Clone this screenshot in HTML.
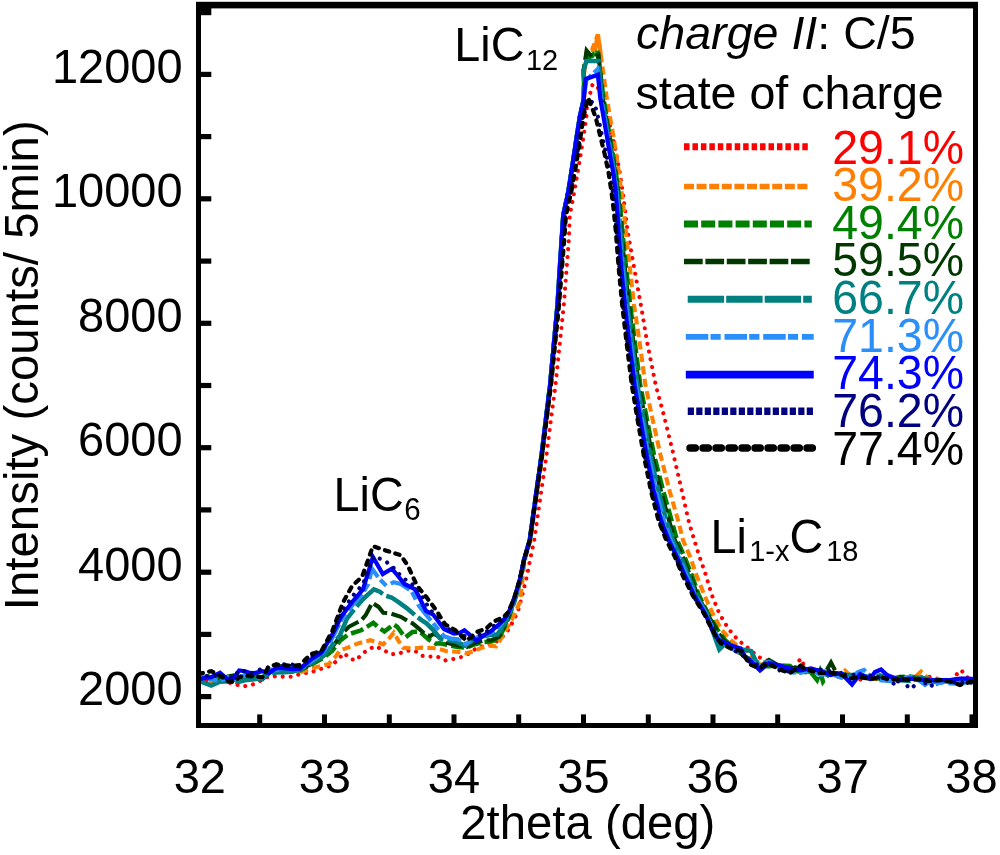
<!DOCTYPE html>
<html><head><meta charset="utf-8"><title>XRD charge II</title>
<style>html,body{margin:0;padding:0;background:#fff}body{width:1000px;height:855px;overflow:hidden}svg{display:block}text{font-family:"Liberation Sans",sans-serif;}</style></head><body>
<svg width="1000" height="855" viewBox="0 0 1000 855">
<rect width="1000" height="855" fill="#fff"/>
<g fill="none" stroke-linejoin="miter" stroke-miterlimit="4">
<path d="M198.5,680.4 L201.6,680.7 L211.2,680.5 L220.0,681.3 L228.0,682.7 L233.6,683.4 L239.2,685.6 L244.8,686.2 L252.0,684.8 L262.4,679.8 L268.4,676.5 L276.4,676.3 L284.4,676.7 L292.4,676.7 L300.0,674.0 L310.8,672.2 L321.6,668.6 L332.4,665.0 L341.4,656.0 L344.1,653.1 L349.9,658.6 L355.8,660.5 L362.2,653.9 L368.7,649.0 L375.7,646.4 L383.9,650.2 L390.9,654.3 L398.5,653.7 L406.1,650.8 L414.9,650.8 L421.9,655.8 L429.5,656.6 L437.1,656.6 L445.4,660.4 L453.9,658.9 L462.3,656.8 L469.3,653.3 L476.3,648.4 L484.7,645.6 L493.2,643.5 L500.2,639.3 L506.5,632.3 L510.7,626.0 L514.2,618.9 L517.7,611.9 L520.5,602.1 L522.6,593.7 L524.7,585.3 L526.8,576.8 L530.0,560.0 L534.3,540.0 L540.4,497.0 L546.5,455.0 L550.9,420.0 L555.5,385.0 L559.6,345.0 L563.8,305.0 L566.5,270.0 L568.8,240.0 L569.8,215.0 L574.2,192.3 L577.7,172.0 L580.6,155.0 L583.7,135.0 L586.4,117.4 L587.0,106.0 L592.6,84.0 L598.0,88.0 L608.0,118.0 L612.5,136.0 L616.5,155.0 L620.0,173.6 L622.7,192.0 L625.2,211.0 L627.4,230.0 L634.0,267.0 L640.9,305.0 L647.1,342.0 L655.7,385.0 L664.3,417.0 L673.6,455.0 L682.1,492.0 L688.4,520.0 L694.2,540.0 L699.6,557.0 L706.2,576.0 L711.8,595.0 L719.3,613.6 L728.6,629.0 L738.0,640.0 L749.2,649.0 L758.6,657.0 L769.0,661.4 L779.5,669.4 L790.0,668.2 L795.0,668.0 L800.5,658.5 L806.0,669.0 L811.0,669.1 L820.0,671.0 L830.5,673.8 L841.0,677.7 L850.0,674.8 L860.0,679.6 L870.0,677.6 L880.0,680.1 L890.0,680.0 L900.0,676.5 L910.0,679.8 L920.0,677.0 L930.0,676.7 L940.0,679.5 L950.0,682.1 L955.0,676.0 L961.0,670.0 L967.0,677.0 L975.0,683.0" stroke="#ff0000" stroke-width="4.1" stroke-linecap="round" stroke-dasharray="0.01 7.9"/>
<path d="M198.5,678.0 L201.6,675.8 L211.2,681.4 L220.0,681.8 L228.0,679.2 L233.6,680.2 L239.2,677.1 L244.8,676.9 L252.0,677.1 L262.4,678.9 L268.4,670.8 L276.4,673.1 L284.4,666.8 L292.4,667.1 L300.0,672.2 L318.0,666.8 L328.8,664.1 L336.0,656.0 L340.0,650.2 L345.8,648.4 L358.7,643.2 L370.4,640.2 L383.3,644.3 L389.1,638.5 L393.8,632.6 L398.5,640.8 L403.2,647.8 L412.5,648.4 L421.9,647.6 L437.1,648.4 L446.8,651.2 L458.1,651.9 L466.5,653.3 L473.5,651.2 L481.9,647.7 L488.9,645.6 L496.0,646.3 L500.2,640.0 L505.8,630.2 L510.0,623.2 L515.6,611.9 L519.8,602.1 L521.9,585.3 L524.8,560.0 L530.6,540.0 L536.5,497.0 L542.4,455.0 L546.6,420.0 L550.9,385.0 L554.6,345.0 L558.3,305.0 L560.5,270.0 L562.4,240.0 L564.1,215.0 L569.0,192.3 L572.2,172.0 L574.8,155.0 L577.8,135.0 L580.5,117.4 L584.4,100.0 L584.8,85.0 L584.5,70.0 L586.4,52.0 L592.0,50.0 L597.9,34.5 L606.8,98.0 L610.0,117.0 L613.4,136.0 L616.3,155.0 L619.0,173.6 L621.5,192.0 L623.8,211.0 L625.6,230.0 L629.8,267.0 L634.0,305.0 L639.6,342.0 L645.4,385.0 L652.1,417.0 L660.5,455.0 L669.9,492.0 L678.0,520.0 L683.0,540.0 L690.2,557.0 L696.8,576.0 L704.3,595.0 L712.7,613.6 L721.1,629.0 L730.5,640.0 L742.0,649.0 L752.0,657.0 L758.6,664.4 L769.0,664.9 L779.5,666.9 L790.0,669.8 L800.5,669.5 L811.0,671.8 L820.0,671.4 L830.5,671.3 L841.0,674.5 L845.0,670.5 L850.0,675.3 L860.0,674.6 L870.0,679.2 L880.0,678.8 L890.0,679.1 L900.0,680.8 L910.0,678.3 L915.0,677.0 L921.0,671.5 L927.0,677.5 L930.0,679.2 L940.0,679.5 L950.0,681.5 L960.0,677.7 L967.0,680.6 L975.0,681.2" stroke="#ff8000" stroke-width="4.1" stroke-linecap="butt" stroke-dasharray="8.3 4.3"/>
<path d="M594.6,52 L597.9,34.5 L600.8,54" stroke="#ff8000" stroke-width="4.1" stroke-linecap="butt"/>
<path d="M198.5,674.7 L201.6,678.0 L211.2,675.8 L220.0,680.0 L228.0,679.6 L233.6,677.9 L239.2,679.2 L244.8,678.6 L252.0,675.0 L262.4,677.4 L268.4,672.9 L276.4,669.8 L284.4,671.5 L292.4,670.0 L300.0,670.4 L310.8,665.0 L323.4,657.8 L332.4,650.6 L340.0,640.8 L348.2,634.4 L361.1,630.3 L366.9,626.8 L373.3,622.7 L378.6,627.4 L384.4,631.5 L393.8,624.4 L397.3,626.8 L403.2,635.0 L405.5,637.3 L412.5,632.0 L419.5,631.5 L428.9,639.6 L435.9,643.7 L440.0,643.2 L446.8,644.9 L458.1,647.0 L466.5,647.7 L474.9,644.2 L483.3,642.1 L491.8,641.4 L498.8,638.6 L504.4,627.4 L509.3,616.1 L514.2,602.1 L519.8,582.5 L524.0,560.0 L529.8,540.0 L535.7,497.0 L541.6,455.0 L545.8,420.0 L550.1,385.0 L553.8,345.0 L557.5,305.0 L559.7,270.0 L561.6,240.0 L563.3,215.0 L568.2,192.3 L571.4,172.0 L574.0,155.0 L577.0,135.0 L579.7,117.4 L583.6,100.0 L584.0,85.0 L583.7,70.0 L586.4,58.0 L592.0,56.0 L597.3,50.0 L603.5,98.0 L606.5,117.0 L609.6,136.0 L613.0,155.0 L616.0,173.6 L618.5,192.0 L620.5,211.0 L622.2,230.0 L626.0,267.0 L630.2,305.0 L634.8,342.0 L640.2,385.0 L646.5,417.0 L654.0,455.0 L663.5,492.0 L671.5,520.0 L677.0,540.0 L684.6,557.0 L692.1,576.0 L698.7,595.0 L708.0,613.6 L717.0,629.0 L724.9,640.0 L735.0,649.0 L746.5,657.0 L758.6,665.8 L769.0,666.3 L779.5,665.5 L790.0,666.0 L795.0,671.0 L800.5,671.6 L811.0,672.5 L817.0,680.0 L820.0,671.6 L823.0,681.5 L829.0,673.5 L841.0,673.3 L850.0,676.7 L860.0,674.8 L870.0,678.0 L880.0,678.5 L890.0,679.1 L900.0,677.0 L910.0,676.5 L920.0,678.3 L930.0,680.8 L940.0,680.2 L950.0,682.0 L960.0,680.3 L967.0,680.2 L975.0,683.4" stroke="#008000" stroke-width="4.5" stroke-linecap="butt" stroke-dasharray="13 4.2"/>
<path d="M198.5,679.6 L201.6,676.5 L211.2,678.9 L220.0,679.6 L228.0,676.6 L233.6,675.5 L239.2,678.6 L244.8,675.3 L252.0,676.7 L262.4,679.2 L268.4,674.0 L276.4,666.7 L284.4,665.9 L292.4,666.2 L300.0,669.5 L310.8,664.1 L323.4,656.0 L332.4,647.0 L341.4,634.4 L348.8,626.8 L361.1,620.4 L365.7,615.1 L372.2,602.8 L378.6,606.9 L383.3,612.7 L390.3,613.3 L400.8,616.8 L407.8,620.9 L412.5,623.3 L419.5,629.1 L425.4,634.4 L430.1,636.1 L433.6,633.8 L440.0,637.3 L446.8,642.8 L458.1,645.6 L466.5,647.0 L474.9,642.8 L483.3,640.7 L491.8,640.0 L498.8,637.2 L504.4,626.0 L509.3,614.7 L514.2,600.7 L519.8,581.1 L524.0,560.0 L529.8,540.0 L535.7,497.0 L541.6,455.0 L545.8,420.0 L550.1,385.0 L553.8,345.0 L557.5,305.0 L559.7,270.0 L561.6,240.0 L563.3,215.0 L568.2,192.3 L571.4,172.0 L574.0,155.0 L577.0,135.0 L579.7,117.4 L583.6,100.0 L584.0,85.0 L583.7,70.0 L586.6,50.5 L592.0,57.0 L598.6,55.0 L602.7,98.0 L605.8,117.0 L608.9,136.0 L612.2,155.0 L615.4,173.6 L617.8,192.0 L619.7,211.0 L621.2,230.0 L624.8,267.0 L628.9,305.0 L633.4,342.0 L638.8,385.0 L644.9,417.0 L652.1,455.0 L661.1,492.0 L668.9,520.0 L674.9,540.0 L682.7,557.0 L690.3,576.0 L697.5,595.0 L707.2,613.6 L715.8,629.0 L723.3,640.0 L734.2,649.0 L746.1,657.0 L758.6,668.0 L769.0,660.0 L779.5,666.1 L790.0,667.6 L800.5,668.3 L811.0,671.1 L820.0,670.0 L825.0,673.0 L831.0,662.5 L837.0,674.0 L841.0,676.3 L850.0,677.8 L860.0,676.4 L870.0,679.0 L880.0,678.1 L890.0,680.1 L900.0,677.0 L910.0,678.1 L920.0,679.8 L930.0,682.4 L940.0,680.8 L950.0,680.3 L960.0,679.2 L967.0,679.5 L975.0,679.3" stroke="#003800" stroke-width="4.1" stroke-linecap="butt" stroke-dasharray="17 4.4"/>
<path d="M198.5,680.7 L201.6,681.9 L211.2,685.6 L220.0,681.6 L228.0,681.4 L233.6,681.8 L239.2,681.8 L244.8,680.3 L252.0,679.5 L262.4,678.4 L268.4,674.2 L276.4,672.4 L284.4,672.2 L292.4,671.7 L300.0,669.5 L310.8,663.2 L323.4,656.0 L332.4,645.2 L340.0,635.0 L347.0,618.6 L355.2,608.1 L363.4,598.7 L373.9,589.4 L379.8,591.7 L384.4,595.2 L391.5,597.5 L398.5,602.2 L406.7,608.1 L414.9,615.1 L421.9,620.4 L426.5,623.3 L433.6,630.3 L440.0,638.5 L446.8,640.0 L455.3,641.4 L465.1,645.6 L473.5,640.0 L481.9,636.5 L490.4,635.1 L497.4,634.4 L503.0,626.0 L506.5,620.4 L514.2,600.7 L519.8,581.1 L524.0,560.0 L529.8,540.0 L535.7,497.0 L541.6,455.0 L545.8,420.0 L550.1,385.0 L553.8,345.0 L557.5,305.0 L559.7,270.0 L561.6,240.0 L563.3,215.0 L568.2,192.3 L571.4,172.0 L574.0,155.0 L577.0,135.0 L579.7,117.4 L583.6,100.0 L584.0,85.0 L583.7,70.0 L586.4,61.0 L598.6,61.0 L601.9,98.0 L605.0,117.0 L608.2,136.0 L611.5,155.0 L614.7,173.6 L617.1,192.0 L618.9,211.0 L620.3,230.0 L623.6,267.0 L627.5,305.0 L632.0,342.0 L637.4,385.0 L643.2,417.0 L650.2,455.0 L658.8,492.0 L666.2,520.0 L672.8,540.0 L680.8,557.0 L688.5,576.0 L696.4,595.0 L706.5,613.6 L713.0,632.0 L719.3,649.5 L725.0,644.0 L733.5,649.0 L745.0,650.0 L751.0,651.0 L756.7,662.5 L769.0,662.7 L779.5,667.1 L790.0,668.9 L800.5,671.2 L811.0,671.8 L820.0,671.4 L830.5,672.9 L841.0,675.1 L850.0,675.1 L860.0,675.0 L870.0,677.7 L880.0,675.3 L890.0,678.7 L900.0,680.3 L910.0,680.9 L920.0,677.8 L930.0,679.2 L940.0,682.6 L950.0,679.6 L960.0,683.6 L967.0,679.0 L975.0,683.0" stroke="#008080" stroke-width="4.5" stroke-linecap="butt" stroke-dasharray="34.5 4"/>
<path d="M198.5,678.9 L201.6,675.8 L211.2,679.3 L220.0,681.0 L228.0,677.2 L233.6,679.9 L239.2,676.9 L244.8,675.5 L252.0,676.4 L262.4,678.3 L268.4,669.4 L276.4,670.1 L284.4,667.6 L292.4,665.9 L300.0,669.0 L310.8,661.4 L321.6,654.2 L332.4,638.0 L341.4,620.0 L352.2,605.6 L363.0,593.0 L368.4,584.0 L372.0,568.7 L379.2,578.6 L386.4,585.8 L393.6,582.2 L400.8,584.0 L411.6,591.2 L418.8,605.6 L426.0,614.6 L435.0,625.4 L444.0,636.2 L451.1,638.6 L458.1,639.3 L465.8,644.2 L473.5,638.6 L481.9,635.8 L490.4,633.0 L497.4,628.8 L504.4,620.4 L508.6,613.3 L514.2,599.3 L519.8,580.4 L524.0,560.0 L529.8,540.0 L535.7,497.0 L541.6,455.0 L545.8,420.0 L550.1,385.0 L553.8,345.0 L557.5,305.0 L559.7,270.0 L561.6,240.0 L563.3,215.0 L568.2,192.3 L571.4,172.0 L574.0,155.0 L577.0,135.0 L579.7,117.4 L583.6,100.0 L586.4,80.0 L597.3,69.5 L601.0,98.0 L604.2,117.0 L607.5,136.0 L610.8,155.0 L614.0,173.6 L616.4,192.0 L618.0,211.0 L619.3,230.0 L622.4,267.0 L626.1,305.0 L630.6,342.0 L636.0,385.0 L641.5,417.0 L648.4,455.0 L656.4,492.0 L663.6,520.0 L670.7,540.0 L678.9,557.0 L686.8,576.0 L695.2,595.0 L705.8,613.6 L713.2,629.0 L720.1,640.0 L732.8,649.0 L745.4,657.0 L758.6,666.1 L769.0,661.8 L779.5,667.5 L790.0,672.3 L800.5,673.0 L811.0,669.4 L820.0,674.9 L830.5,673.8 L841.0,677.7 L850.0,678.4 L858.0,672.0 L864.0,670.0 L870.0,675.8 L880.0,680.3 L890.0,681.1 L900.0,679.2 L910.0,676.6 L920.0,681.2 L925.0,685.0 L930.0,681.3 L933.0,686.0 L940.0,682.4 L950.0,683.4 L960.0,683.6 L967.0,682.3 L975.0,680.4" stroke="#2a8ffa" stroke-width="4.2" stroke-linecap="butt" stroke-dasharray="21 3.5 8.5 5"/>
<path d="M198.5,678.3 L201.6,678.6 L211.2,677.1 L220.0,672.8 L228.0,679.9 L233.6,678.3 L239.2,670.5 L244.8,671.2 L252.0,673.5 L262.4,671.2 L268.4,673.0 L276.4,668.2 L284.4,668.2 L292.4,669.2 L300.0,668.6 L310.8,659.6 L321.6,652.4 L332.4,634.4 L341.4,616.4 L352.2,602.0 L363.0,589.4 L372.9,557.0 L382.8,574.1 L391.8,568.7 L397.2,575.0 L404.4,584.0 L415.2,589.4 L426.0,611.0 L433.2,614.6 L444.0,629.0 L453.9,633.7 L459.5,633.0 L464.4,630.2 L469.3,634.4 L476.3,640.7 L483.3,635.8 L490.4,631.6 L497.4,626.0 L504.4,618.9 L508.6,612.6 L514.2,598.6 L519.8,579.6 L524.0,560.0 L529.8,540.0 L535.7,497.0 L541.6,455.0 L545.8,420.0 L550.1,385.0 L553.8,345.0 L557.5,305.0 L559.7,270.0 L561.6,240.0 L563.3,215.0 L568.2,192.3 L571.4,172.0 L574.0,155.0 L577.0,135.0 L579.7,117.4 L583.6,100.0 L585.7,79.0 L598.0,74.7 L600.2,98.0 L603.5,117.0 L606.8,136.0 L610.0,155.0 L613.4,173.6 L615.7,192.0 L617.2,211.0 L618.4,230.0 L621.2,267.0 L624.8,305.0 L629.2,342.0 L634.6,385.0 L639.9,417.0 L646.5,455.0 L654.0,492.0 L661.0,520.0 L668.6,540.0 L677.0,557.0 L685.0,576.0 L694.0,595.0 L705.0,613.6 L712.0,629.0 L718.5,640.0 L730.0,645.0 L740.5,648.5 L745.0,657.0 L749.5,660.0 L760.0,670.5 L769.0,663.0 L779.5,665.6 L790.0,668.6 L800.5,670.4 L811.0,668.4 L820.0,671.0 L830.5,675.0 L841.0,673.0 L852.0,684.5 L860.0,674.1 L870.0,678.7 L875.0,672.0 L881.0,669.5 L887.0,675.0 L890.0,676.2 L900.0,680.0 L910.0,678.6 L920.0,679.6 L930.0,680.4 L940.0,680.1 L950.0,680.0 L960.0,678.6 L967.0,678.7 L975.0,679.2" stroke="#0000ff" stroke-width="4.2" stroke-linecap="butt"/>
<path d="M198.5,674.6 L201.6,675.4 L211.2,676.7 L220.0,674.3 L228.0,678.0 L233.6,677.7 L239.2,670.3 L244.8,671.3 L252.0,673.0 L262.4,668.4 L268.4,667.4 L276.4,664.5 L284.4,664.2 L292.4,664.6 L300.0,667.7 L310.8,656.9 L321.6,651.5 L332.4,632.6 L341.4,612.8 L352.2,596.6 L363.0,584.0 L373.8,556.1 L384.6,560.6 L391.8,566.0 L402.6,577.7 L417.0,587.6 L429.6,609.2 L436.8,616.4 L445.8,627.2 L453.9,632.3 L462.3,634.4 L467.9,638.6 L477.0,635.8 L484.7,633.0 L491.8,627.4 L500.2,621.8 L507.2,614.7 L514.2,598.2 L519.8,579.6 L524.0,560.0 L529.9,540.0 L535.9,497.0 L542.0,455.0 L546.4,420.0 L550.8,385.0 L554.8,345.0 L558.7,305.0 L561.4,270.0 L563.7,240.0 L565.5,215.0 L570.6,192.3 L574.1,172.0 L577.0,155.0 L580.0,135.0 L582.7,117.4 L586.8,99.0 L594.7,103.6 L598.0,117.0 L602.2,136.0 L606.4,155.0 L610.1,173.6 L612.8,192.0 L614.8,211.0 L616.5,230.0 L619.4,267.0 L623.0,305.0 L627.3,342.0 L632.6,385.0 L637.9,417.0 L644.5,455.0 L652.0,492.0 L659.2,520.0 L666.9,540.0 L675.6,557.0 L683.6,576.0 L692.9,595.0 L704.3,613.6 L711.6,629.0 L718.1,640.0 L732.0,649.0 L745.0,657.0 L749.2,661.7 L758.6,664.9 L769.0,662.7 L779.5,670.3 L790.0,671.4 L800.5,668.3 L811.0,670.2 L820.0,669.4 L830.5,671.1 L841.0,674.9 L850.0,674.4 L860.0,675.5 L870.0,675.8 L880.0,677.2 L890.0,680.2 L896.0,686.0 L900.0,676.9 L905.0,684.0 L911.0,689.0 L917.0,683.0 L920.0,678.7 L930.0,687.0 L940.0,678.9 L950.0,682.2 L960.0,682.8 L967.0,682.2 L975.0,683.3" stroke="#000080" stroke-width="4.1" stroke-linecap="round" stroke-dasharray="0.01 8.4"/>
<path d="M198.5,673.5 L201.6,673.2 L211.2,671.2 L220.0,675.6 L228.0,681.2 L233.6,682.0 L239.2,677.2 L244.8,675.6 L252.0,676.4 L262.4,677.2 L268.4,667.2 L276.4,664.4 L284.4,665.2 L292.4,666.0 L300.0,665.0 L310.8,654.2 L321.6,650.6 L332.4,630.8 L343.2,602.0 L352.2,585.8 L362.1,576.8 L372.9,546.2 L386.4,550.7 L400.8,555.2 L408.0,566.0 L417.0,585.8 L426.0,596.6 L436.8,611.0 L439.8,616.1 L445.4,624.6 L455.3,630.2 L466.5,640.7 L477.7,631.6 L486.1,628.8 L493.2,621.8 L503.0,617.5 L508.6,611.9 L514.2,597.9 L519.8,579.6 L524.0,560.0 L529.9,540.0 L536.0,497.0 L542.1,455.0 L546.5,420.0 L551.0,385.0 L555.0,345.0 L559.0,305.0 L561.8,270.0 L564.2,240.0 L566.0,215.0 L571.2,192.3 L574.8,172.0 L577.8,155.0 L580.8,135.0 L583.4,117.4 L588.1,97.8 L595.6,117.0 L600.2,136.0 L604.9,155.0 L608.7,173.6 L611.5,192.0 L613.8,211.0 L615.7,230.0 L618.6,267.0 L622.2,305.0 L626.5,342.0 L631.8,385.0 L637.1,417.0 L643.7,455.0 L651.2,492.0 L658.4,520.0 L666.2,540.0 L675.0,557.0 L683.0,576.0 L692.5,595.0 L704.0,613.6 L715.5,636.0 L721.1,643.5 L732.4,649.2 L741.7,651.0 L749.2,664.1 L758.6,667.9 L769.0,663.8 L779.5,669.5 L790.0,673.0 L800.5,665.8 L811.0,671.0 L820.0,673.0 L830.5,672.5 L841.0,674.7 L850.0,678.5 L860.0,677.0 L870.0,679.0 L880.0,677.0 L890.0,679.5 L900.0,679.0 L910.0,680.0 L920.0,679.0 L930.0,681.0 L940.0,680.0 L950.0,681.5 L960.0,685.0 L967.0,683.0 L975.0,680.0" stroke="#000000" stroke-width="4.2" stroke-linecap="round" stroke-dasharray="4.4 6.4"/>
</g>
<g fill="#000">
<rect x="196" y="1.8" width="782" height="6.6"/>
<rect x="196" y="723" width="782" height="5"/>
<rect x="196" y="2" width="5" height="726"/>
<rect x="973" y="2" width="5" height="726"/>
<rect x="257.2" y="714.4" width="5" height="9"/>
<rect x="322.0" y="714.4" width="5" height="9"/>
<rect x="386.8" y="714.4" width="5" height="9"/>
<rect x="451.5" y="714.4" width="5" height="9"/>
<rect x="516.2" y="714.4" width="5" height="9"/>
<rect x="581.0" y="714.4" width="5" height="9"/>
<rect x="645.8" y="714.4" width="5" height="9"/>
<rect x="710.5" y="714.4" width="5" height="9"/>
<rect x="775.2" y="714.4" width="5" height="9"/>
<rect x="840.0" y="714.4" width="5" height="9"/>
<rect x="904.8" y="714.4" width="5" height="9"/>
<rect x="969.5" y="714.4" width="5" height="9"/>
<rect x="200" y="694.0" width="11.3" height="5.2"/>
<rect x="200" y="631.8" width="11.3" height="5.2"/>
<rect x="200" y="569.6" width="11.3" height="5.2"/>
<rect x="200" y="507.3" width="11.3" height="5.2"/>
<rect x="200" y="445.1" width="11.3" height="5.2"/>
<rect x="200" y="382.9" width="11.3" height="5.2"/>
<rect x="200" y="320.7" width="11.3" height="5.2"/>
<rect x="200" y="258.5" width="11.3" height="5.2"/>
<rect x="200" y="196.2" width="11.3" height="5.2"/>
<rect x="200" y="134.0" width="11.3" height="5.2"/>
<rect x="200" y="71.8" width="11.3" height="5.2"/>
<rect x="200" y="8" width="11.3" height="7.2"/>
</g>
<text transform="translate(182.6,705.1) scale(1,1.04)" font-size="47" text-anchor="end" fill="#000">2000</text>
<text transform="translate(182.6,580.7) scale(1,1.04)" font-size="47" text-anchor="end" fill="#000">4000</text>
<text transform="translate(182.6,456.2) scale(1,1.04)" font-size="47" text-anchor="end" fill="#000">6000</text>
<text transform="translate(182.6,331.8) scale(1,1.04)" font-size="47" text-anchor="end" fill="#000">8000</text>
<text transform="translate(182.6,207.3) scale(1,1.04)" font-size="47" text-anchor="end" fill="#000">10000</text>
<text transform="translate(182.6,82.9) scale(1,1.04)" font-size="47" text-anchor="end" fill="#000">12000</text>
<text transform="translate(199.8,792.6) scale(1,1.04)" font-size="47" text-anchor="middle" fill="#000">32</text>
<text transform="translate(324.8,792.6) scale(1,1.04)" font-size="47" text-anchor="middle" fill="#000">33</text>
<text transform="translate(454,792.6) scale(1,1.04)" font-size="47" text-anchor="middle" fill="#000">34</text>
<text transform="translate(583.5,792.6) scale(1,1.04)" font-size="47" text-anchor="middle" fill="#000">35</text>
<text transform="translate(713,792.6) scale(1,1.04)" font-size="47" text-anchor="middle" fill="#000">36</text>
<text transform="translate(842.7,792.6) scale(1,1.04)" font-size="47" text-anchor="middle" fill="#000">37</text>
<text transform="translate(971.5,792.6) scale(1,1.04)" font-size="47" text-anchor="middle" fill="#000">38</text>
<text transform="translate(587.8,838.5) scale(1,1.0)" font-size="47.3" text-anchor="middle" fill="#000">2theta (deg)</text>
<text transform="translate(38,610.2) rotate(-90)" font-size="47.4" fill="#000">Intensity (counts/ 5min)</text>
<text transform="translate(636,49) scale(1,1.0)" font-size="46.6" text-anchor="start" fill="#000"><tspan font-style="italic">charge II</tspan>: C/5</text>
<text transform="translate(635.5,108.5) scale(1,1.0)" font-size="46.6" text-anchor="start" fill="#000">state of charge</text>
<text transform="translate(454.3,61) scale(1,1.04)" font-size="46.7" text-anchor="start" fill="#000">LiC</text>
<text transform="translate(526,70) scale(1,1.04)" font-size="29" text-anchor="start" fill="#000">12</text>
<text transform="translate(333.6,510.8) scale(1,1.04)" font-size="46.7" text-anchor="start" fill="#000">LiC</text>
<text transform="translate(404.2,520.2) scale(1,1.04)" font-size="29.5" text-anchor="start" fill="#000">6</text>
<text transform="translate(710.6,552.6) scale(1,1.04)" font-size="46.7" text-anchor="start" fill="#000">Li</text>
<text transform="translate(749.2,561.2) scale(1,1.04)" font-size="29" text-anchor="start" fill="#000">1-x</text>
<text transform="translate(789.6,552.6) scale(1,1.04)" font-size="46.7" text-anchor="start" fill="#000">C</text>
<text transform="translate(826.2,561.2) scale(1,1.04)" font-size="29" text-anchor="start" fill="#000">18</text>
<g fill="none">
<line x1="684" y1="146.7" x2="810.7" y2="146.7" stroke="#ff0000" stroke-width="7" stroke-linecap="butt" stroke-dasharray="5.5 2.95"/>
<line x1="684" y1="186.5" x2="810" y2="186.5" stroke="#ff8000" stroke-width="5.4" stroke-linecap="butt" stroke-dasharray="10 2.6"/>
<line x1="684" y1="223.9" x2="811.8" y2="223.9" stroke="#008000" stroke-width="7" stroke-linecap="butt" stroke-dasharray="14 3.2"/>
<line x1="684" y1="261.5" x2="810.4" y2="261.5" stroke="#003800" stroke-width="5.5" stroke-linecap="butt" stroke-dasharray="18.7 2.7"/>
<line x1="687.7" y1="299.2" x2="811.8" y2="299.2" stroke="#008080" stroke-width="6.9" stroke-linecap="butt" stroke-dasharray="36.4 2.1"/>
<line x1="685.8" y1="336.9" x2="813.7" y2="336.9" stroke="#2a8ffa" stroke-width="5.7" stroke-linecap="butt" stroke-dasharray="22.5 2.2 10.2 3.8"/>
<line x1="685.8" y1="374.6" x2="813.75" y2="374.6" stroke="#0000ff" stroke-width="7.6" stroke-linecap="butt"/>
<line x1="687.75" y1="411.25" x2="813.75" y2="411.25" stroke="#000080" stroke-width="7.5" stroke-linecap="butt" stroke-dasharray="6.2 2.3"/>
<line x1="690" y1="448" x2="813" y2="448" stroke="#000000" stroke-width="7.5" stroke-linecap="round" stroke-dasharray="5.3 7.7"/>
</g>
<text transform="translate(964,163.5) scale(1,1.04)" font-size="46.5" text-anchor="end" fill="#ff0000">29.1%</text>
<text transform="translate(964,201.1) scale(1,1.04)" font-size="46.5" text-anchor="end" fill="#ff8000">39.2%</text>
<text transform="translate(964,238.8) scale(1,1.04)" font-size="46.5" text-anchor="end" fill="#008000">49.4%</text>
<text transform="translate(964,276.4) scale(1,1.04)" font-size="46.5" text-anchor="end" fill="#003800">59.5%</text>
<text transform="translate(964,314.0) scale(1,1.04)" font-size="46.5" text-anchor="end" fill="#008080">66.7%</text>
<text transform="translate(964,351.6) scale(1,1.04)" font-size="46.5" text-anchor="end" fill="#2a8ffa">71.3%</text>
<text transform="translate(964,389.3) scale(1,1.04)" font-size="46.5" text-anchor="end" fill="#0000ff">74.3%</text>
<text transform="translate(964,426.9) scale(1,1.04)" font-size="46.5" text-anchor="end" fill="#000080">76.2%</text>
<text transform="translate(964,464.5) scale(1,1.04)" font-size="46.5" text-anchor="end" fill="#000000">77.4%</text>
</svg></body></html>
